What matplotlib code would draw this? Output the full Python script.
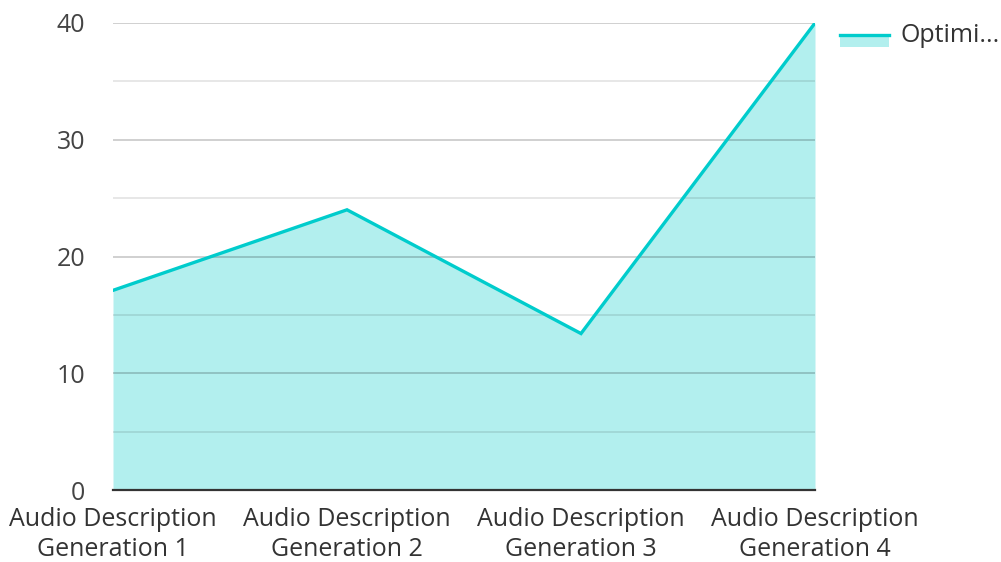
import matplotlib.pyplot as plt
from matplotlib.lines import Line2D
from matplotlib.patches import Rectangle
from matplotlib.ticker import MultipleLocator

plt.rcParams['font.family'] = ['Open Sans', 'DejaVu Sans']

categories = ["Audio Description\nGeneration 1", "Audio Description\nGeneration 2",
              "Audio Description\nGeneration 3", "Audio Description\nGeneration 4"]
values = [17.1, 24.0, 13.4, 40.0]
series_name = "Optimi..."

line_color = "#00cccc"
fill_color = "#b2efee"

fig = plt.figure(figsize=(10.01, 5.62), dpi=100)
ax = fig.add_axes([113 / 1001, 1 - 490 / 562, (815 - 113) / 1001, (490 - 23) / 562])

x = list(range(len(categories)))
ax.fill_between(x, values, 0, color=fill_color, linewidth=0, zorder=1)
ax.plot(x, values, color=line_color, linewidth=2.4, zorder=3, solid_joinstyle='miter')

ax.set_xlim(0, len(categories) - 1)
ax.set_ylim(0, 40)
ax.yaxis.set_major_locator(MultipleLocator(10))
ax.yaxis.set_minor_locator(MultipleLocator(5))
ax.grid(axis='y', which='major', color='black', alpha=0.2, linewidth=1.3, zorder=2)
ax.grid(axis='y', which='minor', color='black', alpha=0.1, linewidth=1.3, zorder=2)
ax.set_axisbelow(False)

for s in ['top', 'right', 'left']:
    ax.spines[s].set_visible(False)
ax.spines['bottom'].set_color('#333333')
ax.spines['bottom'].set_linewidth(1.6)
ax.spines['bottom'].set_zorder(4)

ax.set_xticks(x)
ax.set_xticklabels(categories, fontsize=18, color='#333333', linespacing=1.3)
ax.tick_params(axis='x', length=0, pad=12)
ax.tick_params(axis='y', which='both', length=0, pad=20, labelsize=18, labelcolor='#444444')

# legend
fig.patches.append(Rectangle((840 / 1001, 1 - 47 / 562), 49 / 1001, 13 / 562,
                             transform=fig.transFigure, color=fill_color, linewidth=0))
fig.lines.append(Line2D([840 / 1001, 889 / 1001], [1 - 35 / 562, 1 - 35 / 562],
                        transform=fig.transFigure, color=line_color, linewidth=2.4))
fig.text(900 / 1001, 1 - 36 / 562, series_name, fontsize=18, color='#333333',
         va='center', ha='left')

fig.savefig("out.png", dpi=100)
